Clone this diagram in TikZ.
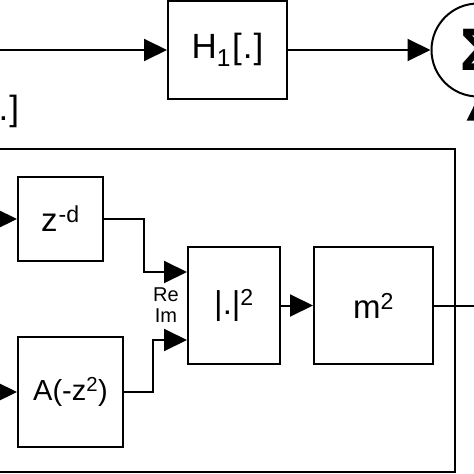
\documentclass[tikz,border=0pt]{standalone}
\usepackage{fontspec}
\setmainfont{Liberation Sans}
\usepackage{tikz}
\usetikzlibrary{arrows.meta,calc}

\begin{document}
\begin{tikzpicture}[x=1pt,y=-1pt,line width=2pt,
		blk/.style={draw, inner sep=0pt, font=\fontsize{33}{36}\selectfont},
		arr/.style={-{Triangle[length=23pt,width=22pt]}}]
		% 0. 画布范围 (y 轴向下, 单位 pt)
		\useasboundingbox (0,0) rectangle (474,474);
		
		% 1. 上方支路: H1 与求和节点
		\node[blk, minimum width=119pt, minimum height=98pt, font=\fontsize{35}{38}\selectfont] (H1) at (227.5,50) {H\textsubscript{1}\kern1pt[\kern1pt.\kern1pt]};
		\node[draw, circle, minimum size=93pt, inner sep=0pt] (sum) at (478,50) {};
		\node[font=\fontsize{60}{60}\selectfont\bfseries] (sig) at (478,50) {Σ};
		\coordinate (in0) at (-10,50);
		\draw[arr] (in0) -- (H1);
		\draw[arr] (H1) -- (sum);
		\node[anchor=base east, inner sep=0pt, font=\fontsize{35}{38}\selectfont] (lbl) at (20,120) {[\kern1pt.\kern1pt]};
		
		% 2. 外框
		\draw (-5,149) rectangle (455,472);
		
		% 3. 框内各模块
		\node[blk, minimum width=85pt, minimum height=84pt] (zd) at (60.5,219) {z\textsuperscript{\kern1pt-d}};
		\node[blk, minimum width=105pt, minimum height=110pt, font=\fontsize{29}{32}\selectfont] (Az) at (70.5,392) {A(-z\textsuperscript{2})};
		\node[blk, minimum width=92pt, minimum height=117pt] (abs) at (234,305.5) {|.|\textsuperscript{2}};
		\node[blk, minimum width=119pt, minimum height=117pt] (msq) at (373.5,305.5) {m\textsuperscript{2}};
		\node[align=center, inner sep=0pt, font=\fontsize{20}{21}\selectfont] (reim) at (166,305) {Re\\Im};
		
		% 4. 连线
		\coordinate (in1) at (-10,219);
		\coordinate (in2) at (-10,392);
		\draw[arr] (in1) -- (zd);
		\draw[arr] (in2) -- (Az);
		\draw[arr] (zd.east) -- ++(40,0) |- ([yshift=33.5pt]abs.west);
		\draw[arr] (Az.east) -- ++(29,0) |- ([yshift=-34.5pt]abs.west);
		\draw[arr] (abs) -- (msq);
		\draw[arr] (msq.east) -| (sum.south);
	\end{tikzpicture}
\end{document}
